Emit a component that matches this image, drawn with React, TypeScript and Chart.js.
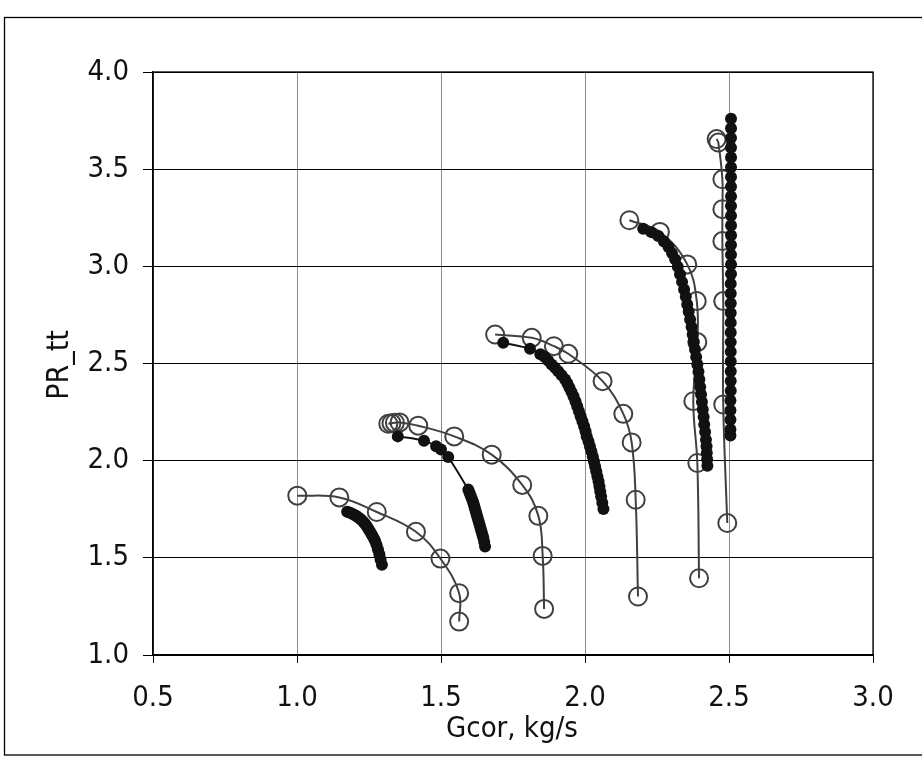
import React, { useEffect, useRef } from "react";
import { Chart, registerables } from "chart.js";

Chart.register(...registerables);

// Open-circle series (smoothed lines)
const s1OpenX = [1.001, 1.147, 1.277, 1.413, 1.498, 1.563, 1.563];
const s1OpenY = [1.82, 1.811, 1.736, 1.634, 1.496, 1.318, 1.172];
const s2OpenX = [1.317, 1.328, 1.34, 1.356, 1.421, 1.546, 1.676, 1.782, 1.838, 1.853, 1.858];
const s2OpenY = [2.19, 2.193, 2.195, 2.197, 2.18, 2.125, 2.031, 1.875, 1.716, 1.51, 1.237];
const s3OpenX = [1.688, 1.815, 1.892, 1.942, 2.061, 2.133, 2.162, 2.176, 2.184];
const s3OpenY = [2.649, 2.632, 2.589, 2.55, 2.409, 2.241, 2.094, 1.799, 1.301];
const s4OpenX = [2.154, 2.26, 2.355, 2.388, 2.39, 2.376, 2.39, 2.396];
const s4OpenY = [3.237, 3.177, 3.01, 2.821, 2.61, 2.306, 1.988, 1.395];
const s5OpenX = [2.457, 2.463, 2.477, 2.477, 2.477, 2.48, 2.48, 2.494];
const s5OpenY = [3.655, 3.637, 3.448, 3.294, 3.13, 2.821, 2.289, 1.679];

// Filled-dot series
const s1FillX = [1.174, 1.182, 1.19, 1.198, 1.205, 1.212, 1.219, 1.225, 1.231, 1.236, 1.241, 1.246, 1.251, 1.256, 1.261, 1.266, 1.271, 1.276, 1.281, 1.286, 1.29, 1.295];
const s1FillY = [1.737, 1.733, 1.728, 1.722, 1.716, 1.709, 1.701, 1.693, 1.684, 1.675, 1.665, 1.654, 1.642, 1.629, 1.616, 1.602, 1.588, 1.568, 1.544, 1.518, 1.492, 1.464];
const s2FillX = [1.35, 1.441, 1.483, 1.5, 1.525, 1.595, 1.599, 1.603, 1.607, 1.611, 1.614, 1.617, 1.62, 1.623, 1.626, 1.629, 1.632, 1.635, 1.638, 1.641, 1.644, 1.647, 1.65, 1.653];
const s2FillY = [2.125, 2.103, 2.074, 2.057, 2.019, 1.851, 1.835, 1.82, 1.804, 1.789, 1.774, 1.758, 1.742, 1.727, 1.711, 1.696, 1.68, 1.665, 1.649, 1.634, 1.618, 1.603, 1.582, 1.558];
const s3FillX = [1.716, 1.809, 1.845, 1.859, 1.872, 1.884, 1.896, 1.907, 1.919, 1.931, 1.939, 1.946, 1.953, 1.96, 1.967, 1.973, 1.979, 1.985, 1.991, 1.997, 2.002, 2.006, 2.012, 2.017, 2.022, 2.027, 2.031, 2.035, 2.039, 2.043, 2.047, 2.05, 2.053, 2.056, 2.06, 2.064];
const s3FillY = [2.607, 2.576, 2.548, 2.535, 2.515, 2.495, 2.478, 2.46, 2.439, 2.418, 2.397, 2.375, 2.354, 2.332, 2.306, 2.28, 2.254, 2.228, 2.203, 2.177, 2.151, 2.125, 2.1, 2.074, 2.048, 2.022, 1.997, 1.971, 1.945, 1.919, 1.894, 1.868, 1.842, 1.816, 1.784, 1.751];
const s4FillX = [2.202, 2.23, 2.255, 2.274, 2.29, 2.302, 2.313, 2.322, 2.33, 2.337, 2.344, 2.35, 2.355, 2.36, 2.365, 2.37, 2.374, 2.378, 2.382, 2.386, 2.39, 2.394, 2.397, 2.4, 2.403, 2.406, 2.409, 2.412, 2.414, 2.417, 2.42, 2.422, 2.423, 2.424, 2.425];
const s4FillY = [3.194, 3.176, 3.156, 3.128, 3.099, 3.068, 3.036, 2.998, 2.959, 2.92, 2.881, 2.843, 2.804, 2.766, 2.727, 2.688, 2.649, 2.611, 2.572, 2.534, 2.495, 2.457, 2.418, 2.379, 2.34, 2.302, 2.263, 2.225, 2.186, 2.147, 2.108, 2.074, 2.04, 2.007, 1.974];
const s5FillX = [2.507, 2.507, 2.507, 2.507, 2.507, 2.507, 2.507, 2.507, 2.507, 2.507, 2.507, 2.507, 2.507, 2.507, 2.507, 2.507, 2.507,
  2.506, 2.506, 2.506, 2.506, 2.506, 2.506, 2.506, 2.506, 2.506, 2.506, 2.506, 2.506, 2.505, 2.505, 2.505, 2.505, 2.505];
const s5FillY = [3.76, 3.71, 3.66, 3.61, 3.56, 3.51, 3.46, 3.41, 3.36, 3.31, 3.26, 3.21, 3.16, 3.11, 3.06, 3.01, 2.96,
  2.91, 2.86, 2.81, 2.76, 2.71, 2.66, 2.61, 2.56, 2.51, 2.46, 2.41, 2.36, 2.31, 2.26, 2.21, 2.16, 2.13];

const xTitle = "Gcor, kg/s";
const yTitle = "PR_tt";
const FONT = '"DejaVu Sans Condensed", "DejaVu Sans", sans-serif';

const pts = (xs: number[], ys: number[]) => xs.map((x, i) => ({ x, y: ys[i] }));

const openDs = (xs: number[], ys: number[]) => ({
  data: pts(xs, ys),
  showLine: true,
  tension: 0.4,
  borderColor: "#404040",
  borderWidth: 2,
  pointRadius: 9,
  pointBorderWidth: 2,
  pointBorderColor: "#404040",
  pointBackgroundColor: "rgba(0,0,0,0)",
  order: 2,
});
const fillDs = (xs: number[], ys: number[]) => ({
  data: pts(xs, ys),
  showLine: true,
  tension: 0.3,
  borderColor: "#111",
  borderWidth: 2,
  pointRadius: 6,
  pointBorderWidth: 0,
  pointBackgroundColor: "#111",
  order: 1,
});

const framePlugin = {
  id: "frame",
  beforeDraw(chart: any) {
    const ctx = chart.ctx;
    ctx.save();
    ctx.fillStyle = "#fff";
    ctx.fillRect(0, 0, chart.width, chart.height);
    ctx.strokeStyle = "#000";
    ctx.lineWidth = 1.3;
    ctx.strokeRect(4.5, 17.5, 1000, 737.5);
    ctx.restore();
  },
  afterDraw(chart: any) {
    const ctx = chart.ctx;
    const a = chart.chartArea;
    ctx.save();
    ctx.strokeStyle = "#000";
    ctx.lineWidth = 1.3;
    ctx.strokeRect(a.left, a.top, a.right - a.left, a.bottom - a.top);
    ctx.fillStyle = "#111";
    ctx.font = `29px ${FONT}`;
    ctx.textAlign = "center";
    ctx.textBaseline = "middle";
    ctx.fillText(xTitle, 512, 729);
    ctx.translate(60, 365);
    ctx.rotate(-Math.PI / 2);
    ctx.font = `30px ${FONT}`;
    ctx.fillText(yTitle, 0, 0);
    ctx.restore();
  },
};

export default function App() {
  const ref = useRef<HTMLCanvasElement>(null);
  useEffect(() => {
    if (!ref.current) return;
    const chart = new Chart(ref.current, {
      type: "scatter",
      data: {
        datasets: [
          openDs(s1OpenX, s1OpenY),
          openDs(s2OpenX, s2OpenY),
          openDs(s3OpenX, s3OpenY),
          openDs(s4OpenX, s4OpenY),
          openDs(s5OpenX, s5OpenY),
          fillDs(s1FillX, s1FillY),
          fillDs(s2FillX, s2FillY),
          fillDs(s3FillX, s3FillY),
          fillDs(s4FillX, s4FillY),
          fillDs(s5FillX, s5FillY),
        ] as any,
      },
      options: {
        responsive: false,
        animation: false,
        devicePixelRatio: 1,
        layout: { padding: { left: 0, right: 49, top: 72, bottom: 0 } },
        plugins: { legend: { display: false }, tooltip: { enabled: false } },
        scales: {
          x: {
            type: "linear",
            min: 0.5,
            max: 3.0,
            afterFit: (s: any) => { s.height = 115; },
            ticks: {
              stepSize: 0.5,
              padding: 18,
              color: "#111",
              font: { family: FONT, size: 29 },
              callback: (v: any) => Number(v).toFixed(1),
            },
            grid: { color: "#8c8c8c", lineWidth: 1, tickLength: 8, tickColor: "#000" },
            border: { color: "#000", width: 1.3 },
          },
          y: {
            type: "linear",
            min: 1.0,
            max: 4.0,
            afterFit: (s: any) => { s.width = 153; },
            ticks: {
              stepSize: 0.5,
              padding: 14,
              color: "#111",
              font: { family: FONT, size: 29 },
              callback: (v: any) => Number(v).toFixed(1),
            },
            grid: { color: "#000", lineWidth: 1, tickLength: 10, tickColor: "#000" },
            border: { color: "#000", width: 1.3 },
          },
        },
      },
      plugins: [framePlugin],
    });
    return () => chart.destroy();
  }, []);
  return (
    <div style={{ position: "absolute", left: 0, top: 0, width: 922, height: 770, background: "#fff" }}>
      <canvas ref={ref} width={922} height={770} style={{ width: 922, height: 770 }} />
    </div>
  );
}
